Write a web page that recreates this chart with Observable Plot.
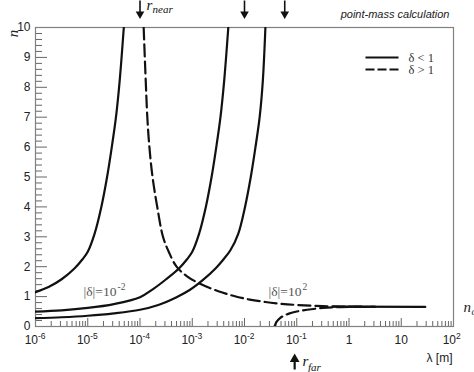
<!DOCTYPE html>
<html><head><meta charset="utf-8">
<script src="https://cdn.jsdelivr.net/npm/d3@7"></script>
<script src="https://cdn.jsdelivr.net/npm/@observablehq/plot@0.6"></script>
<style>body{margin:0;background:#fff}</style>
</head><body><div id="chart"></div>
<script>
// ---- data (log10 λ, n) ----
const c1Log = [-6,-5.75,-5.5,-5.25,-5.1,-5.0,-4.87,-4.74,-4.63,-4.54,-4.46,-4.39,-4.31];
const c1N   = [1.15,1.32,1.58,1.95,2.25,2.5,3.1,4.0,5.0,6.0,7.0,8.2,10];
const c2Log = [-6,-5.5,-5,-4.5,-4,-3.75,-3.5,-3.25,-3.1,-3.0,-2.87,-2.74,-2.63,-2.54,-2.46,-2.39,-2.31];
const c2N   = [0.5,0.54,0.62,0.75,0.98,1.25,1.58,1.95,2.25,2.5,3.1,4.0,5.0,6.0,7.0,8.2,10];
const c3Log = [-6,-5.5,-5,-4.5,-4,-3.65,-3.3,-3.05,-2.8,-2.55,-2.4,-2.27,-2.12,-1.99,-1.88,-1.79,-1.71,-1.65,-1.6];
const c3N   = [0.28,0.31,0.36,0.44,0.56,0.72,0.98,1.22,1.55,1.95,2.25,2.55,3.1,4.0,5.0,6.0,7.0,8.2,10];
const d1Log = [-3.93,-3.89,-3.86,-3.82,-3.76,-3.67,-3.56,-3.45,-3.3,-3.1,-2.84,-2.5,-2.2,-1.9,-1.6,-1.3,-1.0,-0.5,0,0.5];
const d1N   = [10,8.2,7,6,5,4,3,2.5,2.0,1.68,1.42,1.18,1.02,0.9,0.82,0.76,0.72,0.68,0.665,0.66];
const d2Log = [-1.42,-1.38,-1.32,-1.25,-1.15,-1.0,-0.8,-0.5,-0.16,0.5];
const d2N   = [0.03,0.17,0.28,0.36,0.43,0.5,0.56,0.62,0.65,0.66];
const ncLog = [-0.3,1.46];
const ncN   = [0.665,0.655];

// ---- ticks & labels ----
const decades = [-6,-5,-4,-3,-2,-1,0,1,2];
const xMajor = decades.map(e => 10 ** e);
const xMinor = decades.slice(0, -1).flatMap(e => [2,3,4,5,6,7,8,9].map(m => m * 10 ** e));
const yMajor = [0,1,2,3,4,5,6,7,8,9,10];
const yMinor = d3.range(1, 50).filter(k => k % 5 !== 0).map(k => k / 5);
const xLabelBase = ["10","10","10","10","10","10","1","10","10"];
const xLabelExp  = ["-6","-5","-4","-3","-2","-1","","","2"];
const topArrows = [1e-4, 1e-2, 10 ** -1.23];
const farArrow  = [10 ** -1.04];

const rows = (L, N) => L.map((l, i) => ({lam: 10 ** l, n: N[i]}));
const labels = xMajor.map((v, i) => ({v, base: xLabelBase[i], exp: xLabelExp[i]}));
const withExp = labels.filter(d => d.exp !== "");
const noExp = labels.filter(d => d.exp === "");

// pixel helpers for annotations outside the frame
const mT = 27, mB = 46, mL = 35, mR = 21, W = 474, H = 372;
const yPx = px => (H - mB - px) / ((H - mT - mB) / 10);
const xPx = px => 10 ** (-6 + (px - mL) / ((W - mL - mR) / 8));

const serif = "Liberation Serif, Times New Roman, serif";
const lineOpt = {x: "lam", y: "n", curve: "catmull-rom", stroke: "#111", strokeWidth: 2.2, clip: true};
const tickOpt = {tickFormat: () => "", stroke: "#666", label: null};

const chart = Plot.plot({
  width: W, height: H,
  marginTop: mT, marginBottom: mB, marginLeft: mL, marginRight: mR,
  x: {type: "log", domain: [1e-6, 1e2], label: null},
  y: {domain: [0, 10], label: null},
  style: {fontFamily: "Liberation Sans, Arial, sans-serif", fontSize: "12px", color: "#222", background: "#fff", overflow: "visible"},
  marks: [
    Plot.axisX(xMajor, {...tickOpt, tickSize: -8}),
    Plot.axisX(xMinor, {...tickOpt, tickSize: -5}),
    Plot.axisY(yMajor, {...tickOpt, tickSize: -12}),
    Plot.axisY(yMinor, {...tickOpt, tickSize: -7}),
    Plot.axisY(yMajor, {tickSize: 0, tickPadding: 5, fontSize: 12, fill: "#222", label: null}),
    Plot.frame({stroke: "#808080", strokeWidth: 1.2}),
    // x tick labels
    Plot.text(withExp, {x: "v", text: "base", frameAnchor: "bottom", dy: 17, dx: 2.5, lineAnchor: "bottom", textAnchor: "end", fontSize: 12, fill: "#222"}),
    Plot.text(withExp, {x: "v", text: "exp", frameAnchor: "bottom", dy: 12, dx: 2.5, lineAnchor: "bottom", textAnchor: "start", fontSize: 8.5, fill: "#222"}),
    Plot.text(noExp, {x: "v", text: "base", frameAnchor: "bottom", dy: 17, lineAnchor: "bottom", textAnchor: "middle", fontSize: 12, fill: "#222"}),
    // curves
    Plot.line(rows(c1Log, c1N), lineOpt),
    Plot.line(rows(c2Log, c2N), lineOpt),
    Plot.line(rows(c3Log, c3N), lineOpt),
    Plot.line(rows(ncLog, ncN), lineOpt),
    Plot.line(rows(d1Log, d1N), {...lineOpt, strokeDasharray: "12,5"}),
    Plot.line(rows(d2Log, d2N), {...lineOpt, strokeDasharray: "12,5"}),
    // curve labels
    Plot.text([0], {x: xPx(83), y: yPx(295), text: ["|δ|=10"], textAnchor: "start", lineAnchor: "bottom", fontFamily: serif, fontSize: 13.5, fill: "#555"}),
    Plot.text([0], {x: xPx(83), y: yPx(295), dx: 34, dy: -6, text: ["-2"], textAnchor: "start", lineAnchor: "bottom", fontFamily: serif, fontSize: 9.5, fill: "#555"}),
    Plot.text([0], {x: xPx(268), y: yPx(295), text: ["|δ|=10"], textAnchor: "start", lineAnchor: "bottom", fontFamily: serif, fontSize: 13.5, fill: "#555"}),
    Plot.text([0], {x: xPx(268), y: yPx(295), dx: 34, dy: -6, text: ["2"], textAnchor: "start", lineAnchor: "bottom", fontFamily: serif, fontSize: 9.5, fill: "#555"}),
    // legend
    Plot.link([0], {x1: xPx(365), x2: xPx(398), y1: yPx(57), y2: yPx(57), stroke: "#111", strokeWidth: 2.2}),
    Plot.link([0], {x1: xPx(365), x2: xPx(398), y1: yPx(69), y2: yPx(69), stroke: "#111", strokeWidth: 2.2, strokeDasharray: "9,3"}),
    Plot.text([0], {x: xPx(408), y: yPx(57), text: ["δ < 1"], textAnchor: "start", fontFamily: serif, fontSize: 12.5, fill: "#333"}),
    Plot.text([0], {x: xPx(408), y: yPx(69.5), text: ["δ > 1"], textAnchor: "start", fontFamily: serif, fontSize: 12.5, fill: "#333"}),
    // top arrows
    Plot.link(topArrows, {x1: d => d, x2: d => d, y1: yPx(0), y2: yPx(12), stroke: "#111", strokeWidth: 1.6}),
    Plot.dot(topArrows, {x: d => d, y: yPx(13.5), symbol: "triangle", rotate: 180, r: 3.2, fill: "#111", stroke: "none"}),
    Plot.text([0], {x: xPx(146), y: yPx(9), text: ["r"], textAnchor: "start", lineAnchor: "bottom", fontFamily: serif, fontStyle: "italic", fontSize: 15, fill: "#111"}),
    Plot.text([0], {x: xPx(152), y: yPx(12), text: ["near"], textAnchor: "start", lineAnchor: "bottom", fontFamily: serif, fontStyle: "italic", fontSize: 11, fill: "#111"}),
    // bottom arrow
    Plot.link(farArrow, {x1: d => d, x2: d => d, y1: yPx(359), y2: yPx(369), stroke: "#111", strokeWidth: 2.2}),
    Plot.dot(farArrow, {x: d => d, y: yPx(358.6), symbol: "triangle", r: 3.6, fill: "#111", stroke: "none"}),
    Plot.text([0], {x: xPx(302), y: yPx(365), text: ["r"], textAnchor: "start", lineAnchor: "bottom", fontFamily: serif, fontStyle: "italic", fontSize: 15, fill: "#111"}),
    Plot.text([0], {x: xPx(307.5), y: yPx(370), text: ["far"], textAnchor: "start", lineAnchor: "bottom", fontFamily: serif, fontStyle: "italic", fontSize: 11, fill: "#111"}),
    // titles
    Plot.text([0], {frameAnchor: "top-right", dx: -4, dy: -10, text: ["point-mass calculation"], textAnchor: "end", lineAnchor: "bottom", fontStyle: "italic", fontSize: 11, fill: "#222"}),
    Plot.text([0], {frameAnchor: "bottom-right", dx: -1, dy: 35, text: ["λ [m]"], textAnchor: "end", lineAnchor: "bottom", fontSize: 12, fill: "#222"}),
    Plot.text([0], {frameAnchor: "top-left", dx: -28, dy: 6, text: ["n"], rotate: -90, textAnchor: "middle", fontFamily: serif, fontStyle: "italic", fontSize: 15, fill: "#222"}),
    Plot.text([0], {y: yPx(311), frameAnchor: "right", dx: 10, text: ["n"], textAnchor: "start", lineAnchor: "bottom", fontFamily: serif, fontStyle: "italic", fontSize: 15, fill: "#222"}),
    Plot.text([0], {y: yPx(314), frameAnchor: "right", dx: 18, text: ["c"], textAnchor: "start", lineAnchor: "bottom", fontFamily: serif, fontStyle: "italic", fontSize: 10, fill: "#222"})
  ]
});
document.getElementById("chart").appendChild(chart);
</script>
</body></html>
